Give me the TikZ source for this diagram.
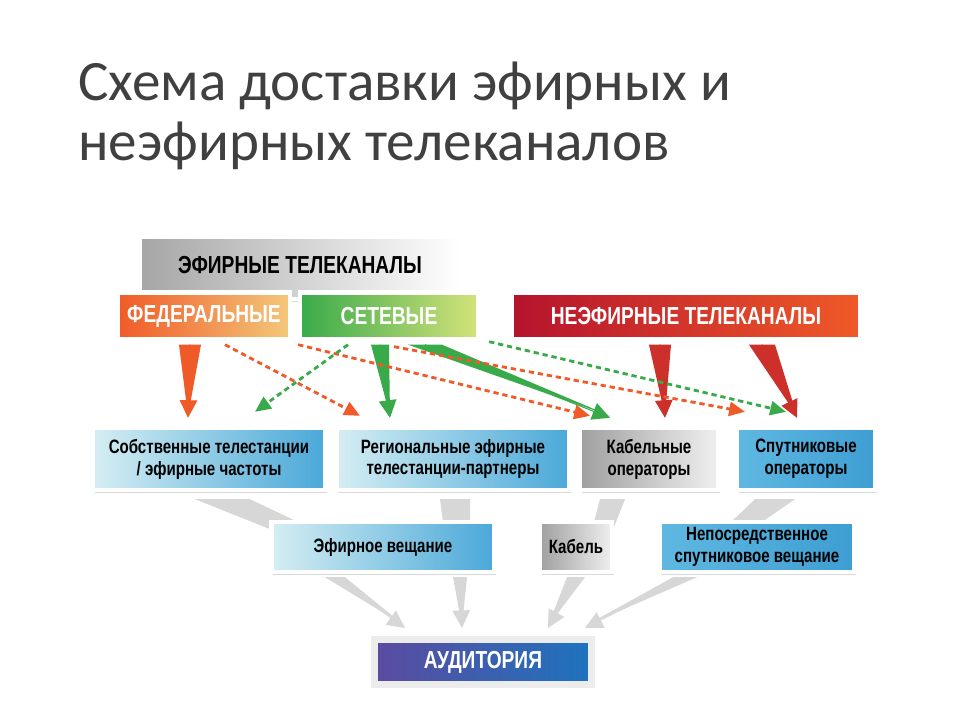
\documentclass[tikz,border=0pt]{standalone}
\usepackage{fontspec}
\setmainfont{Carlito}
\newfontfamily\cond[FakeStretch=0.78]{Liberation Sans}
\usetikzlibrary{calc,arrows.meta,shadows}

\definecolor{titlegray}{RGB}{64,64,64}
\definecolor{fedL}{RGB}{240,90,40}
\definecolor{fedR}{RGB}{243,200,122}
\definecolor{setL}{RGB}{57,170,74}
\definecolor{setR}{RGB}{212,226,122}
\definecolor{nefL}{RGB}{181,19,45}
\definecolor{nefR}{RGB}{240,90,40}
\definecolor{bluL}{RGB}{213,238,243}
\definecolor{bluR}{RGB}{74,168,216}
\definecolor{satL}{RGB}{95,184,225}
\definecolor{satR}{RGB}{62,158,210}
\definecolor{audL}{RGB}{91,75,160}
\definecolor{audR}{RGB}{30,115,190}
\definecolor{funnelgray}{RGB}{215,215,215}

\tikzset{
  box/.style={draw=white, line width=2.5pt, shading=axis, shading angle=90,
    drop shadow={opacity=.3, shadow xshift=1pt, shadow yshift=-1.5pt},
    align=center, inner sep=0pt, font=\cond\bfseries\fontsize{11}{12.5}\selectfont},
  bigbox/.style={box, font=\cond\bfseries\fontsize{14}{16}\selectfont},
  dashline/.style={line width=1.6pt, dash pattern=on 3pt off 2.2pt,
    -{Triangle[length=9pt,width=8pt]}}
}

% tapered arrow: colour, start anchor, x shift, end anchor, x shift, half width
\newcommand\fatarrow[6]{%
  \fill[#1] ($(#2)+(#3-#6,3)$) -- ($(#2)+(#3+#6,3)$) -- ($(#4)+(#5,-10)$) -- cycle;
  \draw[#1, line width=.6pt, -{Triangle[length=10pt,width=10pt]}]
    ($(#2)+(#3,3)$) -- ($(#4)+(#5,-8)$);}

\begin{document}
\begin{tikzpicture}[x=0.02cm, y=-0.02cm]
\useasboundingbox (0,0) rectangle (960,720);

% title
\node (t1) [anchor=base west, text=titlegray, font=\fontsize{32.5}{36}\selectfont, inner sep=0pt]
  at (78,100) {Схема доставки эфирных и};
\node (t2) [anchor=base west, text=titlegray, font=\fontsize{32.5}{36}\selectfont, inner sep=0pt]
  at (78,160) {неэфирных телеканалов};

% top level
\node (efir) [bigbox, left color=gray!70, right color=white, minimum width=6.4cm, minimum height=1.24cm]
  at (300,268) {\raisebox{4pt}{ЭФИРНЫЕ ТЕЛЕКАНАЛЫ}};
\node (fed) [bigbox, left color=fedL, right color=fedR, text=white, minimum width=3.44cm, minimum height=.94cm]
  at (204,316) {ФЕДЕРАЛЬНЫЕ};
\node (set) [bigbox, left color=setL, right color=setR, text=white, minimum width=3.56cm, minimum height=.94cm]
  at (389,316) {СЕТЕВЫЕ};
\node (nef) [bigbox, left color=nefL, right color=nefR, text=white, minimum width=6.96cm, minimum height=.94cm]
  at (686,316) {НЕЭФИРНЫЕ ТЕЛЕКАНАЛЫ};

% operators
\node (own) [box, left color=bluL, right color=bluR, minimum width=4.64cm, minimum height=1.24cm]
  at (209,459) {Собственные телестанции\\/ эфирные частоты};
\node (reg) [box, left color=bluL, right color=bluR, minimum width=4.66cm, minimum height=1.24cm]
  at (453,459) {Региональные эфирные\\телестанции-партнеры};
\node (cab) [box, left color=gray!75, right color=gray!12, minimum width=2.76cm, minimum height=1.24cm]
  at (649,459) {Кабельные\\операторы};
\node (sat) [box, left color=satL, right color=satR, minimum width=2.76cm, minimum height=1.24cm]
  at (806,459) {Спутниковые\\операторы};

% gray funnels
\fill[funnelgray] ($(own.south)+(-14,7)$) -- ($(own.south)+(41,7)$) -- ($(own.south)+(121,45)$) -- ($(own.south)+(81,45)$) -- cycle;
\fill[funnelgray] ($(reg.south)+(-13,7)$) -- ($(reg.south)+(17,7)$) -- ($(reg.south)+(17,45)$) -- ($(reg.south)+(-8,45)$) -- cycle;
\fill[funnelgray] ($(cab.south)+(-49,7)$) -- ($(cab.south)+(-24,7)$) -- ($(cab.south)+(-39,45)$) -- ($(cab.south)+(-59,45)$) -- cycle;
\fill[funnelgray] ($(sat.south)+(-51,7)$) -- ($(sat.south)+(-11,7)$) -- ($(sat.south)+(-66,45)$) -- ($(sat.south)+(-91,45)$) -- cycle;

% delivery
\node (ebr) [box, left color=bluL, right color=bluR, minimum width=4.46cm, minimum height=1cm]
  at (383,547) {Эфирное вещание};
\node (kbl) [box, left color=gray!75, right color=gray!12, minimum width=1.44cm, minimum height=1cm]
  at (576,547) {Кабель};
\node (dir) [box, left color=satL, right color=satR, minimum width=3.9cm, minimum height=1cm]
  at (757,547) {Непосредственное\\спутниковое вещание};

\node (aud) [bigbox, left color=audL, right color=audR, text=white, draw=gray!15, line width=4pt,
  minimum width=4.34cm, minimum height=.9cm] at (483,662) {АУДИТОРИЯ};

% gray arrows to the audience
\fatarrow{funnelgray}{ebr.south}{-48}{aud.north}{-78}{10}
\fatarrow{funnelgray}{ebr.south}{77}{aud.north}{-21}{7}
\fatarrow{funnelgray}{kbl.south}{0}{aud.north}{65}{9}
\fatarrow{funnelgray}{dir.south}{-72}{aud.north}{102}{12}

% solid arrows
\fatarrow{fedL}{fed.south}{-14}{own.north}{-21}{11}
\fatarrow{setL}{set.south}{-9}{reg.north}{-63}{9}
\fatarrow{setL}{set.south}{36}{cab.north}{-39}{17}
\fatarrow{nefL!60!fedL}{nef.south}{-26}{cab.north}{16}{11}
\fatarrow{nefL!60!fedL}{nef.south}{76}{sat.north}{-9}{13}

% dashed arrows
\draw[dashline, fedL] ($(fed.south)+(21,3)$) -- ($(reg.north)+(-93,-10)$);
\draw[dashline, fedL] ($(fed.south east)+(6,3)$) -- ($(cab.north)+(-59,-10)$);
\draw[dashline, fedL] ($(set.south)+(5,5)$) -- ($(sat.north)+(-61,-14)$);
\draw[dashline, setL] ($(set.south)+(-41,3)$) -- ($(own.north)+(46,-14)$);
\draw[dashline, setL] ($(set.south east)+(9,0)$) -- ($(sat.north)+(-20,-14)$);
\end{tikzpicture}
\end{document}
